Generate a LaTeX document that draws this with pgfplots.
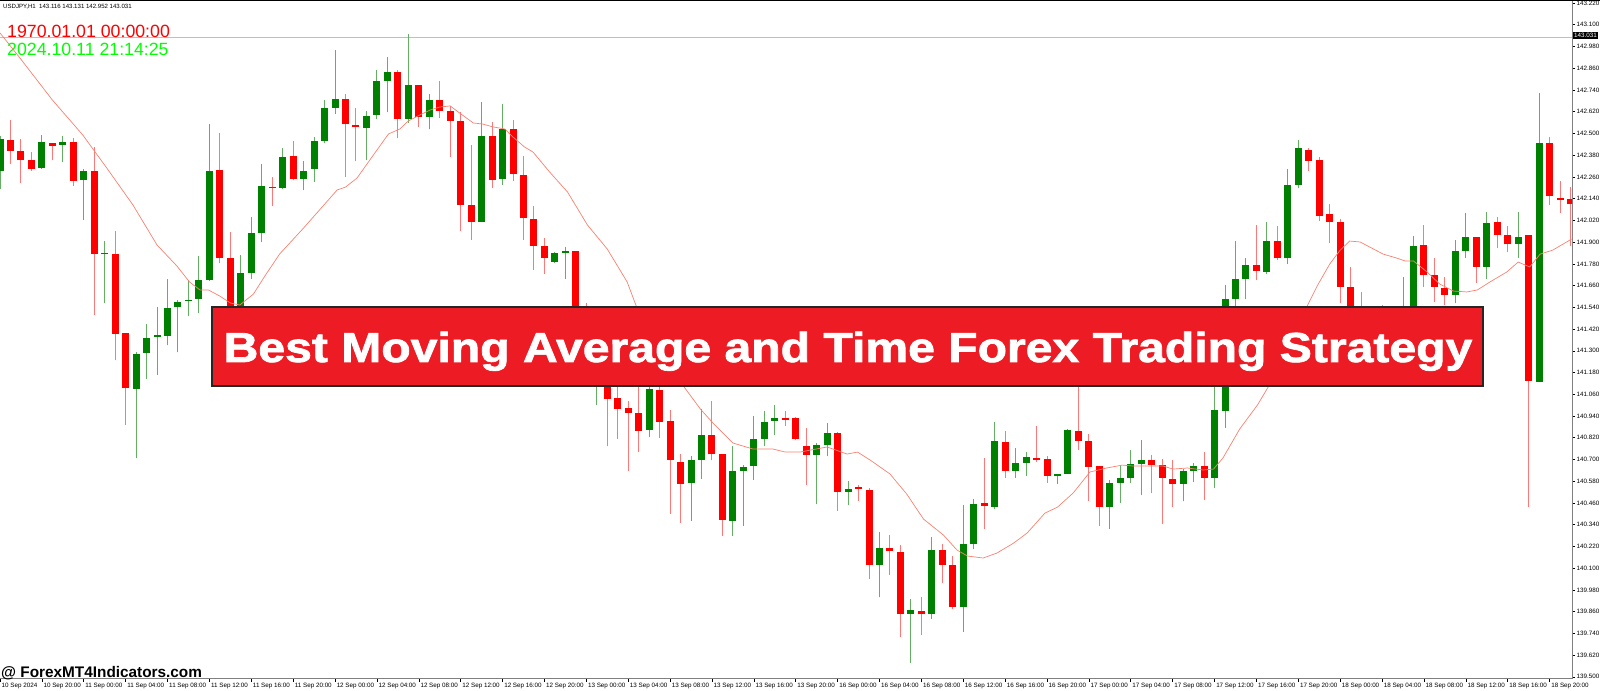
\documentclass[border=0pt]{standalone}
\usepackage{fontspec}
\setmainfont{Liberation Sans}
\newfontfamily\bannerfont[FakeBold=1.6]{Liberation Sans Bold}
\usepackage{graphicx}
\usepackage{pgfplots}
\pgfplotsset{compat=1.18}
\usepackage{pgfplotstable}

\definecolor{bull}{RGB}{0,128,0}
\definecolor{bear}{RGB}{255,0,0}
\definecolor{bullwick}{RGB}{100,175,100}
\definecolor{bearwick}{RGB}{255,120,120}
\definecolor{maline}{RGB}{250,128,114}
\definecolor{bannerred}{RGB}{237,28,36}
\definecolor{limetext}{RGB}{0,255,0}
\definecolor{axisgray}{RGB}{128,128,128}

% USDJPY H1 candles, index 0 = 10 Sep 16:00
\pgfplotstableread{
i o h l c
0 142.293 142.486 142.193 142.468
4 142.311 142.491 142.306 142.453
6 142.437 142.486 142.340 142.453
8 142.243 142.302 142.024 142.293
10 141.833 141.905 141.562 141.842
13 141.089 141.292 140.706 141.281
14 141.287 141.450 141.145 141.371
15 141.377 141.544 141.168 141.386
16 141.382 141.698 141.332 141.535
17 141.540 141.580 141.292 141.567
18 141.574 141.693 141.490 141.583
19 141.585 141.826 141.506 141.693
20 141.693 142.554 141.686 142.295
23 141.427 141.828 141.371 141.731
24 141.731 142.040 141.698 141.950
25 141.952 142.329 141.900 142.209
27 142.198 142.419 142.193 142.369
29 142.247 142.347 142.187 142.293
30 142.302 142.482 142.234 142.459
31 142.459 142.683 142.446 142.642
32 142.642 142.960 142.610 142.692
35 142.532 142.622 142.351 142.599
36 142.601 142.852 142.581 142.788
37 142.791 142.924 142.617 142.838
39 142.581 143.050 142.559 142.768
41 142.590 142.716 142.522 142.683
46 142.013 142.671 142.009 142.486
48 142.247 142.660 142.216 142.525
53 141.792 141.844 141.783 141.840
54 141.840 141.873 141.698 141.849
57 141.157 141.224 140.999 141.202
62 140.864 141.134 140.823 141.089
66 140.571 140.717 140.361 140.699
67 140.695 140.976 140.593 140.834
70 140.363 140.773 140.278 140.638
71 140.638 140.672 140.334 140.661
72 140.665 140.942 140.589 140.812
73 140.812 140.965 140.773 140.909
74 140.913 141.003 140.836 140.931
78 140.724 140.791 140.453 140.778
79 140.778 140.904 140.717 140.848
81 140.521 140.582 140.447 140.539
84 140.120 140.300 139.939 140.214
87 139.849 139.928 139.574 139.867
89 139.845 140.273 139.822 140.203
92 139.883 140.447 139.748 140.232
93 140.232 140.480 140.205 140.453
95 140.440 140.909 140.424 140.800
97 140.638 140.762 140.598 140.679
98 140.679 140.740 140.611 140.713
101 140.611 140.620 140.566 140.620
102 140.622 140.868 140.620 140.864
106 140.440 140.589 140.318 140.571
107 140.571 140.665 140.458 140.598
108 140.598 140.751 140.571 140.674
109 140.674 140.807 140.503 140.697
113 140.566 140.649 140.469 140.638
114 140.638 140.679 140.575 140.665
116 140.598 141.111 140.543 140.972
117 140.965 141.664 140.875 141.585
118 141.585 141.905 141.472 141.698
119 141.698 141.815 141.585 141.772
121 141.734 142.009 141.725 141.905
123 141.810 142.306 141.781 142.216
124 142.216 142.464 142.198 142.419
131 141.359 141.472 141.314 141.416
133 141.382 141.544 141.348 141.483
134 141.483 141.709 141.438 141.547
135 141.544 141.934 141.540 141.878
139 141.607 141.914 141.562 141.849
140 141.851 142.063 141.815 141.927
142 141.765 142.069 141.698 142.006
145 141.887 142.065 141.810 141.927
147 141.129 142.723 141.129 142.446
}\bulltab

\pgfplotstableread{
i o h l c
1 142.464 142.572 142.329 142.401
2 142.401 142.468 142.227 142.351
3 142.356 142.396 142.295 142.306
5 142.446 142.450 142.351 142.432
7 142.453 142.475 142.211 142.238
9 142.295 142.428 141.499 141.833
11 141.833 141.964 141.247 141.393
12 141.400 141.400 140.891 141.093
21 142.299 142.504 141.783 141.815
22 141.815 141.957 141.382 141.427
26 142.207 142.257 142.099 142.198
28 142.378 142.457 142.243 142.250
33 142.692 142.716 142.261 142.550
34 142.545 142.640 142.347 142.534
38 142.838 142.852 142.473 142.581
40 142.768 142.768 142.536 142.590
42 142.683 142.788 142.588 142.622
43 142.626 142.649 142.369 142.570
44 142.570 142.617 141.961 142.103
45 142.103 142.437 141.912 142.013
47 142.486 142.565 142.198 142.243
49 142.525 142.577 142.238 142.277
50 142.272 142.374 141.912 142.031
51 142.027 142.099 141.747 141.878
52 141.878 141.923 141.725 141.810
55 141.849 141.849 141.247 141.292
56 141.292 141.562 141.134 141.157
58 141.190 141.213 140.773 141.033
59 141.039 141.111 140.814 140.976
60 140.983 141.021 140.638 140.954
61 140.958 141.134 140.740 140.859
63 141.084 141.123 140.819 140.909
64 140.913 140.972 140.401 140.695
65 140.688 140.733 140.350 140.566
68 140.834 141.021 140.695 140.728
69 140.728 140.728 140.278 140.368
75 140.931 140.965 140.886 140.920
76 140.927 140.936 140.807 140.814
77 140.773 140.875 140.559 140.724
80 140.845 140.850 140.417 140.521
82 140.548 140.559 140.469 140.535
83 140.532 140.543 140.041 140.120
85 140.210 140.282 140.063 140.192
86 140.187 140.228 139.718 139.849
88 139.865 139.939 139.732 139.845
90 140.199 140.232 140.018 140.120
91 140.115 140.165 139.872 139.883
94 140.458 140.710 140.318 140.444
96 140.796 140.859 140.598 140.638
99 140.710 140.886 140.688 140.697
100 140.701 140.717 140.571 140.611
103 140.859 141.157 140.751 140.800
104 140.800 140.841 140.469 140.661
105 140.665 140.665 140.334 140.440
110 140.699 140.724 140.514 140.672
111 140.672 140.701 140.345 140.598
112 140.593 140.695 140.435 140.566
115 140.665 140.740 140.476 140.598
120 141.776 141.997 141.693 141.738
122 141.905 141.991 141.799 141.810
125 142.408 142.419 142.295 142.347
126 142.351 142.369 142.018 142.047
127 142.054 142.108 141.896 142.009
128 142.009 142.027 141.562 141.652
129 141.652 141.765 141.382 141.427
130 141.427 141.625 141.292 141.359
132 141.416 141.551 141.314 141.382
136 141.882 141.997 141.652 141.716
137 141.716 141.815 141.567 141.652
138 141.648 141.709 141.551 141.607
141 141.927 141.927 141.675 141.765
143 142.009 142.040 141.867 141.939
144 141.939 141.991 141.844 141.887
146 141.941 141.941 140.435 141.134
148 142.450 142.482 142.103 142.153
149 142.142 142.238 142.063 142.130
150 142.137 142.205 141.878 142.108
}\beartab

\pgfplotsset{candle/.style={only marks, mark size=0pt, mark options={draw=none, fill=none}, forget plot,
  error bars/.cd, y dir=plus, y explicit, error mark=none}}

\begin{document}
\begin{tikzpicture}[x=1bp,y=1bp]
\path[use as bounding box] (0,-12) rectangle (1600,679);
\begin{axis}[
  at={(0bp,0bp)}, anchor=south west,
  scale only axis, width=1572bp, height=679bp,
  xmin=0, xmax=150.14, ymin=139.488, ymax=143.237,
  axis x line=bottom, axis y line=right,
  axis line style={-, axisgray, line width=1bp},
  tick align=outside, major tick length=3bp,
  tick style={black, line width=0.6bp},
  xtick={0,4,...,148},
  xticklabels={10 Sep 2024, 10 Sep 20:00, 11 Sep 00:00, 11 Sep 04:00, 11 Sep 08:00, 11 Sep 12:00, 11 Sep 16:00, 11 Sep 20:00, 12 Sep 00:00, 12 Sep 04:00, 12 Sep 08:00, 12 Sep 12:00, 12 Sep 16:00, 12 Sep 20:00, 13 Sep 00:00, 13 Sep 04:00, 13 Sep 08:00, 13 Sep 12:00, 13 Sep 16:00, 13 Sep 20:00, 16 Sep 00:00, 16 Sep 04:00, 16 Sep 08:00, 16 Sep 12:00, 16 Sep 16:00, 16 Sep 20:00, 17 Sep 00:00, 17 Sep 04:00, 17 Sep 08:00, 17 Sep 12:00, 17 Sep 16:00, 17 Sep 20:00, 18 Sep 00:00, 18 Sep 04:00, 18 Sep 08:00, 18 Sep 12:00, 18 Sep 16:00, 18 Sep 20:00},
  xticklabel style={anchor=north west, inner sep=0pt, xshift=1.5bp, yshift=-1bp, font=\fontsize{6.3}{7}\selectfont},
  ytick={139.50,139.62,139.74,139.86,139.98,140.10,140.22,140.34,140.46,140.58,140.70,140.82,140.94,141.06,141.18,141.30,141.42,141.54,141.66,141.78,141.90,142.02,142.14,142.26,142.38,142.50,142.62,142.74,142.86,142.98,143.10,143.22},
  yticklabel style={anchor=west, inner sep=0pt, xshift=1.5bp, font=\fontsize{6.3}{7}\selectfont,
    /pgf/number format/.cd, fixed, fixed zerofill, precision=3, 1000 sep={}, assume math mode=true},
]
% bid line
\addplot[color=black!25, line width=0.8bp, forget plot] coordinates {(0,143.031) (150.14,143.031)};
% wicks
\addplot[candle, error bar style={line width=1bp, color=bullwick}]
  table[x=i, y=l, y error plus expr={\thisrow{h}-\thisrow{l}}] {\bulltab};
\addplot[candle, error bar style={line width=1bp, color=bearwick}]
  table[x=i, y=l, y error plus expr={\thisrow{h}-\thisrow{l}}] {\beartab};
% bodies
\addplot[candle, error bar style={line width=7bp, color=bull}]
  table[x=i, y=o, y error plus expr={\thisrow{c}-\thisrow{o}}] {\bulltab};
\addplot[candle, error bar style={line width=7bp, color=bear}]
  table[x=i, y=c, y error plus expr={\thisrow{o}-\thisrow{c}}] {\beartab};
% moving average
\addplot[color=maline, line width=0.7bp] coordinates {
(0,143.055)(1.9,142.917)(5.0,142.685)(7.9,142.492)(10.2,142.309)(12.7,142.105)(15.0,141.884)(16.9,141.768)(18.1,141.680)(19.1,141.636)(19.9,141.636)(21.0,141.602)(22.0,141.564)(22.9,141.553)(24.2,141.613)(25.3,141.713)(26.7,141.834)(28.9,141.972)(30.6,142.083)(32.2,142.188)(33.0,142.204)(34.1,142.254)(35.6,142.376)(37.1,142.497)(38.2,142.525)(39.0,142.569)(40.1,142.602)(41.1,142.630)(42.0,142.646)(43.0,142.652)(43.9,142.613)(45.2,142.558)(46.1,142.552)(47.1,142.536)(48.2,142.525)(49.0,142.480)(50.1,142.425)(50.9,142.398)(52.5,142.287)(54.2,142.177)(56.1,141.995)(58.0,141.862)(59.9,141.680)(60.8,141.542)(63.0,141.326)(65.2,141.111)(66.9,140.978)(68.1,140.901)(70.0,140.791)(71.9,140.758)(73.8,140.758)(75.0,140.741)(76.4,140.741)(79.0,140.769)(80.9,140.730)(81.9,140.741)(83.1,140.697)(85.0,140.620)(86.6,140.509)(88.2,140.371)(90.1,140.283)(91.4,140.200)(92.4,140.167)(93.9,140.156)(95.2,140.183)(96.8,140.238)(98.1,140.294)(99.8,140.404)(101.0,140.437)(102.5,140.515)(104.1,140.631)(105.7,140.653)(107.2,140.669)(108.2,140.664)(109.8,140.664)(111.1,140.664)(112.0,140.647)(113.4,140.653)(114.9,140.642)(115.9,140.647)(116.8,140.708)(118.4,140.868)(120.1,141.001)(121.3,141.117)(123.2,141.332)(124.8,141.542)(125.8,141.658)(127.0,141.779)(128.0,141.856)(128.9,141.906)(129.9,141.901)(132.1,141.834)(133.4,141.812)(134.2,141.796)(135.0,141.796)(136.3,141.735)(137.5,141.669)(138.8,141.630)(140.1,141.625)(141.1,141.636)(142.3,141.680)(143.9,141.735)(145.0,141.790)(146.1,141.763)(147.1,141.834)(148.3,141.856)(150.1,141.917)};
\end{axis}
% window top edge and header
\fill[black] (0,677.8) rectangle (1600,679);
\node[anchor=base west, inner sep=0pt, font=\fontsize{6.1}{7}\selectfont] at (3,670.5) {USDJPY,H1\ \ 143.116 143.131 142.952 143.031};
\node[anchor=base west, inner sep=0pt, text=bear, font=\fontsize{17.8}{20}\selectfont] at (7,641) {1970.01.01 00:00:00};
\node[anchor=base west, inner sep=0pt, text=limetext, font=\fontsize{17.8}{20}\selectfont] at (7,623) {2024.10.11 21:14:25};
% current price label
\node[anchor=west, fill=black, text=white, inner sep=1bp, font=\fontsize{6.3}{7}\selectfont] at (1573,643.4) {143.031};
% watermark
\node[anchor=base west, inner sep=0pt, font=\fontsize{15.4}{16}\selectfont\bfseries] at (1,1.5) {@ ForexMT4Indicators.com};
% title banner
\fill[bannerred, draw=black!85, line width=2.5bp] (212,372) rectangle (1483,293);
\node[anchor=base, inner sep=0pt, text=white, font=\fontsize{42}{44}\bannerfont] at (848,317) {\scalebox{1.15}[1]{Best Moving Average and Time Forex Trading Strategy}};
\end{tikzpicture}
\end{document}
